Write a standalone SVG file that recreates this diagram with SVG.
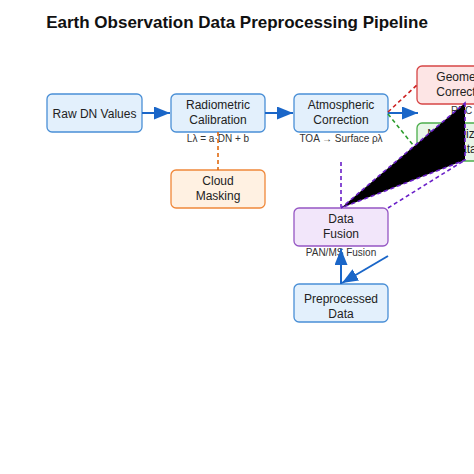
<svg xmlns="http://www.w3.org/2000/svg" width="474" height="474" viewBox="0 0 474 474">
<defs>
<style>
text{font-family:"Liberation Sans",Arial,sans-serif;fill:#222}
.t{font-size:12px;text-anchor:middle}
.lbl{font-size:10px;text-anchor:middle;fill:#333}
.title{font-size:17px;font-weight:bold;text-anchor:middle;fill:#111}
.box{stroke-width:1.3}
.blue{fill:#e3f0fc;stroke:#4a8fd6}
.orange{fill:#fff1e2;stroke:#f0883a}
.red{fill:#fde5e5;stroke:#d64545}
.green{fill:#e8f6e8;stroke:#4cae4c}
.purple{fill:#f2e6fa;stroke:#9556c4}
.arr{stroke:#1a66c8;stroke-width:2;fill:none}
.dash{stroke-width:1.6;stroke-dasharray:4 3;fill:none}
</style>
<marker id="ah" markerWidth="17" markerHeight="13" refX="16" refY="6.5" orient="auto" markerUnits="userSpaceOnUse">
<path d="M0,0 L16,6.5 L0,13 Z" fill="#1a66c8"/>
</marker>
</defs>
<rect width="474" height="474" fill="#fff"/>
<text class="title" x="237" y="28">Earth Observation Data Preprocessing Pipeline</text>

<g id="raw"><rect class="box blue" x="47" y="94" width="95" height="38" rx="5"/><text class="t" x="94.5" y="117.5">Raw DN Values</text></g>
<g id="radiometric"><rect class="box blue" x="171" y="94" width="94" height="38" rx="5"/><text class="t" x="218" y="109">Radiometric</text><text class="t" x="218" y="124">Calibration</text><text class="lbl" x="218" y="142">Lλ = a·DN + b</text></g>
<g id="atmospheric"><rect class="box blue" x="294" y="94" width="94" height="38" rx="5"/><text class="t" x="341" y="109">Atmospheric</text><text class="t" x="341" y="124">Correction</text><text class="lbl" x="341" y="142">TOA → Surface ρλ</text></g>
<g id="geometric"><rect class="box red" x="417" y="66" width="94" height="38" rx="5"/><text class="t" x="464" y="81">Geometric</text><text class="t" x="464" y="96">Correction</text><text class="lbl" x="451" y="114" style="text-anchor:start">RPC + DEM</text></g>
<g id="normalization"><rect class="box green" x="417" y="123" width="94" height="38" rx="5"/><text class="t" x="464" y="138">Normalization</text><text class="t" x="464" y="153">Data</text></g>
<g id="cloud"><rect class="box orange" x="171" y="170" width="94" height="38" rx="5"/><text class="t" x="218" y="185">Cloud</text><text class="t" x="218" y="200">Masking</text></g>
<g id="fusion"><rect class="box purple" x="294" y="208" width="94" height="38" rx="5"/><text class="t" x="341" y="223">Data</text><text class="t" x="341" y="238">Fusion</text><text class="lbl" x="341" y="256">PAN/MS Fusion</text></g>
<g id="preprocessed"><rect class="box blue" x="294" y="284" width="94" height="38" rx="5"/><text class="t" x="341" y="303">Preprocessed</text><text class="t" x="341" y="318">Data</text></g>

<g id="connectors">
<line class="arr" x1="142" y1="113" x2="170" y2="113" marker-end="url(#ah)"/>
<line class="arr" x1="265" y1="113" x2="293" y2="113" marker-end="url(#ah)"/>
<line class="arr" x1="388" y1="113" x2="418" y2="113" marker-end="url(#ah)"/>
<line class="dash" stroke="#e06a10" x1="218" y1="132" x2="218" y2="170"/>
<line class="dash" stroke="#cc1f1f" x1="388" y1="112" x2="417" y2="85"/>
<line class="dash" stroke="#2e9e2e" x1="388" y1="114" x2="417" y2="150"/>
<line class="dash" stroke="#6a1fc8" x1="341" y1="162" x2="341" y2="207"/>
<path d="M465,103 L465,160 L341,208 Z" fill="#000" stroke="#6a1fc8" stroke-width="1.6" stroke-dasharray="4 3"/>
<line class="dash" stroke="#6a1fc8" x1="388" y1="208" x2="465" y2="160"/>
<line class="arr" x1="341" y1="284" x2="341" y2="249" marker-end="url(#ah)"/>
<line class="arr" x1="388" y1="256" x2="342" y2="283" marker-end="url(#ah)"/>
</g>
</svg>
